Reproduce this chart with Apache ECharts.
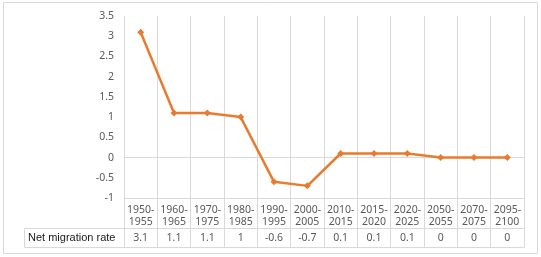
<!DOCTYPE html>
<html>
<head>
<meta charset="utf-8">
<script src="https://cdn.jsdelivr.net/npm/echarts@6/dist/echarts.min.js"></script>
<style>
  html, body { margin: 0; padding: 0; background: #fff; }
  #chart { width: 541px; height: 257px; }
</style>
</head>
<body>
<div id="chart"></div>
<script>
const periods = ["1950-1955", "1960-1965", "1970-1975", "1980-1985", "1990-1995", "2000-2005",
  "2010-2015", "2015-2020", "2020-2025", "2050-2055", "2070-2075", "2095-2100"];
const netMigration = [3.1, 1.1, 1.1, 1, -0.6, -0.7, 0.1, 0.1, 0.1, 0, 0, 0];
const seriesName = "Net migration rate";

const gridColor = "#d9d9d9";
const textColor = "#595959";
const font = "Noto Sans";

const chart = echarts.init(document.getElementById("chart"));

chart.setOption({
  animation: false,
  backgroundColor: "#fff",
  grid: { left: 124, right: 17, top: 16, bottom: 59 },
  xAxis: [
    {
      // category labels row (table top)
      type: "category",
      data: periods,
      position: "bottom",
      axisLine: { onZero: false, lineStyle: { color: gridColor } },
      axisTick: { show: true, interval: 0, length: 49, lineStyle: { color: gridColor } },
      splitLine: { show: true, interval: 0, lineStyle: { color: gridColor } },
      axisLabel: {
        interval: 0,
        margin: 6,
        color: textColor,
        fontFamily: font,
        fontSize: 10.5,
        lineHeight: 12,
        formatter: (v) => v.replace("-", "-\n"),
      },
    },
    {
      // values row
      type: "category",
      data: netMigration.map(String),
      position: "bottom",
      offset: 30,
      axisLine: { onZero: false, lineStyle: { color: gridColor } },
      axisTick: { show: false },
      axisLabel: { interval: 0, margin: 5, color: textColor, fontFamily: font, fontSize: 10.5 },
    },
    {
      // table bottom line
      type: "category",
      data: periods,
      position: "bottom",
      offset: 49,
      axisLine: { onZero: false, lineStyle: { color: gridColor } },
      axisTick: { show: false },
      axisLabel: { show: false },
    },
  ],
  yAxis: {
    type: "value",
    min: -1,
    max: 3.5,
    interval: 0.5,
    axisLine: { show: false },
    axisTick: { show: false },
    splitLine: { show: false },
    axisLabel: { margin: 10, color: textColor, fontFamily: font, fontSize: 10.5 },
  },
  series: [
    {
      name: seriesName,
      type: "line",
      xAxisIndex: 0,
      data: netMigration,
      symbol: "diamond",
      symbolSize: 7,
      lineStyle: { color: "#E97B2F", width: 2.5 },
      itemStyle: { color: "#E97B2F" },
      markLine: {
        silent: true,
        symbol: "none",
        label: { show: false },
        lineStyle: { color: gridColor, type: "solid", width: 1 },
        data: [{ yAxis: 0 }],
        z: 1,
      },
    },
  ],
  graphic: [
    {
      type: "rect",
      shape: { x: 3.5, y: 2.5, width: 534, height: 251 },
      style: { fill: "none", stroke: gridColor, lineWidth: 1 },
      silent: true,
    },
    {
      type: "rect",
      shape: { x: 24.5, y: 228.5, width: 100, height: 19 },
      style: { fill: "none", stroke: gridColor, lineWidth: 1 },
      silent: true,
    },
    {
      type: "text",
      x: 28,
      y: 238,
      style: {
        text: seriesName,
        fill: "#1a1a1a",
        font: "11px 'Liberation Sans', Arial, sans-serif",
        verticalAlign: "middle",
      },
      silent: true,
    },
  ],
});
</script>
</body>
</html>
